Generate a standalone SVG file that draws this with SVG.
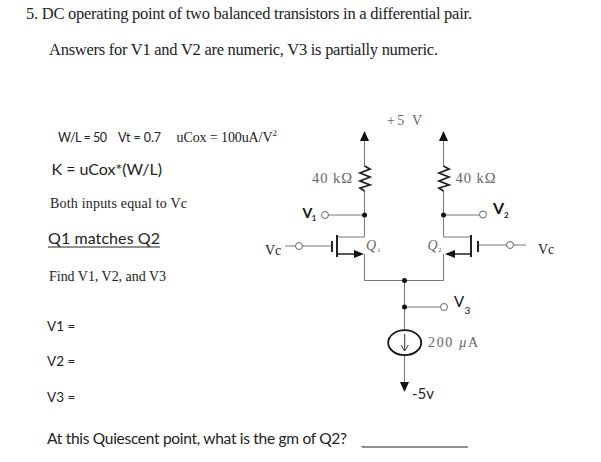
<svg xmlns="http://www.w3.org/2000/svg" width="601" height="462" viewBox="0 0 601 462">
<style>
.t{font-family:"Liberation Serif",serif;fill:#222}
.c{font-family:Lato,"Liberation Sans",sans-serif;fill:#222}
.w{fill:none;stroke:#777;stroke-width:1}
.b{fill:none;stroke:#222;stroke-width:2}
.r{fill:none;stroke:#222;stroke-width:1.8}
.o{fill:#fff;stroke:#666;stroke-width:1}
.d{fill:#111}
.l{font-family:"Liberation Serif",serif;fill:#666}
.v{font-family:Lato,"Liberation Sans",sans-serif;fill:#111}
</style>
<rect width="601" height="462" fill="#fff"/>
<g id="text">
<text class="t" x="26" y="18.500" font-size="16.500" textLength="446">5. DC operating point of two balanced transistors in a differential pair.</text>
<text class="t" x="49" y="55" font-size="16.500" textLength="389">Answers for V1 and V2 are numeric, V3 is partially numeric.</text>
<text class="c" x="58" y="142" font-size="12.500" textLength="49">W/L = 50</text>
<text class="c" x="118" y="142" font-size="12.500" textLength="43">Vt = 0.7</text>
<text class="t" x="176.500" y="142" font-size="14" textLength="96">uCox = 100uA/V</text>
<text class="t" x="272.500" y="135.500" font-size="9">2</text>
<text class="c" x="51.500" y="175" font-size="16" textLength="110.500">K = uCox*(W/L)</text>
<text class="t" x="50" y="207.500" font-size="14" textLength="137">Both inputs equal to Vc</text>
<text class="c" x="48" y="244" font-size="16" textLength="112">Q1 matches Q2</text>
<line x1="48" y1="247" x2="160" y2="247" stroke="#222"/>
<text class="t" x="49" y="281" font-size="14" textLength="117">Find V1, V2, and V3</text>
<text class="c" x="47" y="331" font-size="13.500">V1 =</text>
<text class="c" x="47" y="366" font-size="13.500">V2 =</text>
<text class="c" x="47" y="402" font-size="13.500">V3 =</text>
<text class="c" x="47" y="444" font-size="15.500" textLength="300">At this Quiescent point, what is the gm of Q2?</text>
<path d="M362 446.500Q363 447 364 447H468" fill="none" stroke="#222" stroke-width="1.200"/>
</g>
<g id="connectors">
<path class="w" d="M364.500 141V166M364.500 191V237M443.500 141V166M443.500 191V237M364.500 254V280.500H443.500V254M404.500 280.500V329M404.500 356V383M325 215H364.500M443.500 215H483M404.500 307H444M337 237H364.500M471 237H443.500M285 246H332M478 245H526"/>
<path d="M364.500 131L360 141H369Z M443.500 131L439 141H448Z M404.500 392L400 382H409Z" class="d"/>
</g>
<g id="R1"><path class="r" d="M364.500 166L370 169L360 173L370 177L360 181L370 185L360 188L364.500 191"/>
<text class="l" x="312" y="183" font-size="14.500" textLength="40">40 kΩ</text></g>
<g id="R2"><path class="r" d="M443.500 166L449 169L439 173L449 177L439 181L449 185L439 188L443.500 191"/>
<text class="l" x="455.500" y="183" font-size="14.500" textLength="40">40 kΩ</text></g>
<g id="Q1">
<path class="b" d="M337 235V257M332 241V252"/>
<path d="M338 254H356" stroke="#222" stroke-width="1.500"/><path class="d" d="M364 254L354 250V258Z"/>
<text class="l" x="366" y="250" font-size="14" font-style="italic">Q</text><text class="l" x="377" y="252" font-size="7">1</text>
</g>
<g id="Q2">
<path class="b" d="M471 235V257M478 241V252"/>
<path d="M470 254H453" stroke="#222" stroke-width="1.500"/><path class="d" d="M445 254L455 250V258Z"/>
<text class="l" x="427.500" y="250" font-size="14" font-style="italic">Q</text><text class="l" x="438" y="252" font-size="7">2</text>
</g>
<g id="V1"><circle class="o" cx="325" cy="215" r="3.500"/>
<text class="v" x="302.500" y="217.500" font-size="14" font-weight="700">V</text><text class="v" x="312" y="221" font-size="7" font-weight="700">1</text></g>
<g id="V2"><circle class="o" cx="483" cy="214.500" r="3.500"/>
<text class="v" x="493" y="213.500" font-size="16" font-weight="700">V</text><text class="v" x="504" y="218" font-size="8" font-weight="700">2</text></g>
<g id="V3"><circle class="o" cx="444" cy="307" r="3.500"/>
<text class="v" x="454" y="307" font-size="15">V</text><text class="v" x="464.500" y="313.500" font-size="10">3</text></g>
<g id="VcL"><circle class="o" cx="299" cy="246" r="3.500"/>
<text class="t" x="265" y="255" font-size="14">Vc</text></g>
<g id="VcR"><circle class="o" cx="510" cy="245" r="3.500"/>
<text class="t" x="538" y="254" font-size="14">Vc</text></g>
<g id="supply"><text class="l" x="387" y="125" font-size="14" textLength="35">+5 V</text></g>
<g id="junctions"><circle class="d" cx="364.500" cy="215" r="2.500"/><circle class="d" cx="443.500" cy="215" r="2.500"/><circle class="d" cx="404.500" cy="280.500" r="2.500"/><circle class="d" cx="404.500" cy="307" r="2.500"/></g>
<g id="source"><ellipse cx="404.700" cy="342.700" rx="16.500" ry="12.500" fill="#fff" stroke="#111" stroke-width="1.800"/>
<path d="M404.700 334V350M401 345L404.700 351L408.400 345" fill="none" stroke="#333" stroke-width="1"/>
<text class="l" x="428" y="347" font-size="14" textLength="50">200 <tspan font-style="italic">μ</tspan>A</text></g>
<g id="minus"><text class="c" x="412" y="399" font-size="15">-5v</text></g>
</svg>
